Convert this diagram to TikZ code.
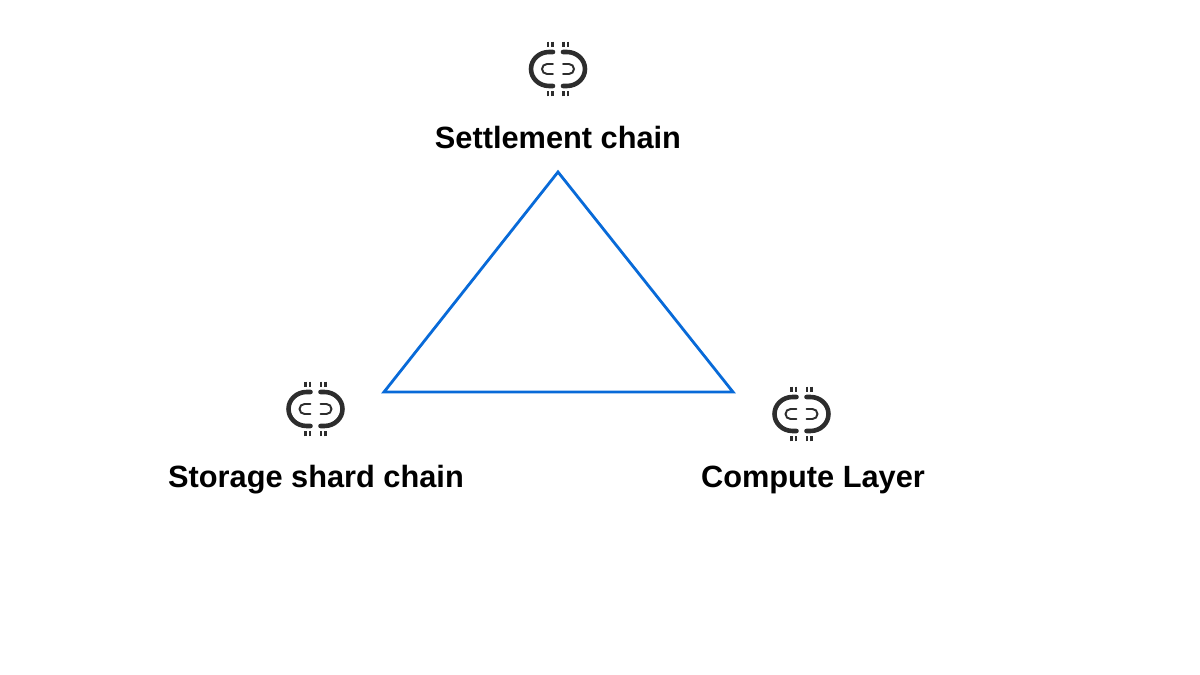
\documentclass[tikz,border=0pt]{standalone}
\usepackage{fontspec}
\setmainfont{Liberation Sans}
\definecolor{edgeblue}{RGB}{8,106,216}
\definecolor{iconink}{RGB}{45,45,45}
\tikzset{
  label text/.style={font=\fontsize{8.75pt}{10pt}\selectfont\bfseries, anchor=base, inner sep=0pt},
  edge line/.style={draw=edgeblue, line width=0.8pt, line join=miter},
  chain icon/.pic={
    \begin{scope}[x=0.01cm, y=0.01cm, draw=iconink, line cap=round]
      \foreach \s in {-1,1} {
        \draw[xscale=\s, line width=1.3pt] (5,17) -- (9,17) arc [start angle=90, end angle=-90, x radius=18, y radius=17] -- (5,-17);
        \draw[xscale=\s, line width=0.55pt] (5,5) -- (11,5) arc (90:-90:5) -- (5,-5);
        \draw[xscale=\s, line width=0.65pt, line cap=butt] (5.5,27.5) -- (5.5,22) (10,27.5) -- (10,22);
        \draw[xscale=\s, line width=0.65pt, line cap=butt] (5.5,-27.5) -- (5.5,-22) (10,-27.5) -- (10,-22);
      }
    \end{scope}
  }
}
\begin{document}
\begin{tikzpicture}
  \useasboundingbox (0,0) rectangle (12,6.75);
  % corners
  \coordinate (apex) at (5.58,5.03);
  \coordinate (leftcorner) at (3.84,2.83);
  \coordinate (rightcorner) at (7.33,2.83);
  \draw[edge line] (apex) -- (leftcorner) -- (rightcorner) -- cycle;
  % icons
  \pic at (5.58,6.06) {chain icon};
  \pic at (3.155,2.66) {chain icon};
  \pic at (8.015,2.61) {chain icon};
  % labels
  \node[label text] (settlement) at (5.58,5.26) {Settlement chain};
  \node[label text] (storage) at (3.16,1.87) {Storage shard chain};
  \node[label text] (compute) at (8.13,1.87) {Compute Layer};
\end{tikzpicture}
\end{document}
